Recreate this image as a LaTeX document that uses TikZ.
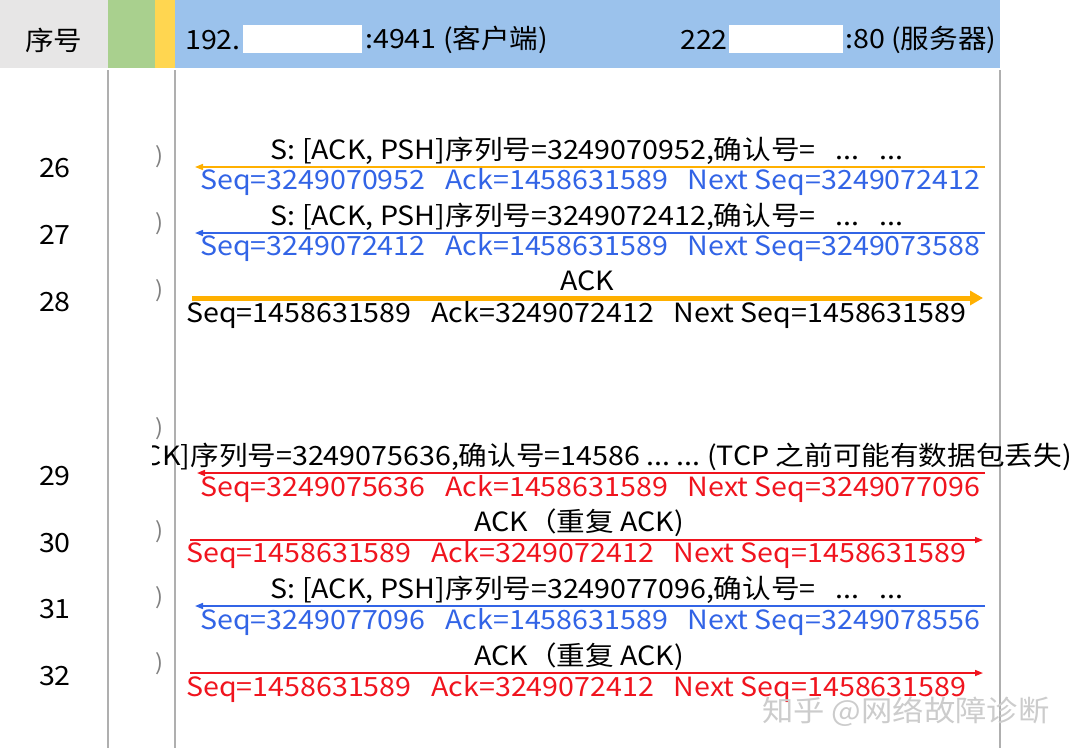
\documentclass[tikz,border=0pt]{standalone}
\usepackage{fontspec}
\setmainfont{Noto Sans CJK SC}[FakeStretch=1.08]
\usetikzlibrary{arrows.meta}
\definecolor{hdrgray}{RGB}{231,230,230}
\definecolor{hdrgreen}{RGB}{169,208,142}
\definecolor{hdryellow}{RGB}{255,214,80}
\definecolor{hdrblue}{RGB}{155,194,236}
\definecolor{segorange}{RGB}{255,176,0}
\definecolor{segblue}{RGB}{50,100,230}
\definecolor{segred}{RGB}{240,20,30}
\definecolor{linegray}{RGB}{175,175,175}
\newcommand{\sgap}{\hspace{0.75em}}
\tikzset{
  txt/.style={inner sep=0pt, font=\fontsize{26.5}{30}\selectfont},
  rownum/.style={txt, anchor=center},
  tick/.style={inner sep=0pt, text=gray, font=\fontsize{22}{24}\selectfont},
  seqline/.style={txt, anchor=west},
  msgline/.style={txt, anchor=center},
  thinarr/.style={line width=1.5pt, -{Triangle[length=8pt,width=6pt]}},
  thickarr/.style={line width=5pt, -{Triangle[length=13pt,width=14pt]}},
}
\begin{document}
\begin{tikzpicture}[x=1pt,y=-1pt]
\useasboundingbox (0,0) rectangle (1080,753);
% header band
\fill[hdrgray] (0,0) rectangle (108,68);
\fill[hdrgreen] (108,0) rectangle (155,68);
\fill[hdryellow] (155,0) rectangle (175,68);
\fill[hdrblue] (175,0) rectangle (1000,68);
\node[txt] (hnum) at (54,40) {序号};
\node[txt, anchor=west] (hcli) at (185,40) {192.};
\fill[white] (243,25) rectangle (362,53);
\node[txt, anchor=west] (hclip) at (365,40) {:4941 (客户端)};
\node[txt, anchor=west] (hsrv) at (680,40) {222};
\fill[white] (729,25) rectangle (843,53);
\node[txt, anchor=west] (hsrvp) at (845,40) {:80 (服务器)};
% column lines
\draw[linegray, line width=1.2pt] (108,70) -- (108,748);
\draw[linegray, line width=1.2pt] (175,70) -- (175,748);
\draw[linegray, line width=1.2pt] (1000,70) -- (1000,748);
% row numbers
\node[rownum] (n26) at (55,168) {26};
\node[rownum] (n27) at (55,235) {27};
\node[rownum] (n28) at (55,302) {28};
\node[rownum] (n29) at (55,476) {29};
\node[rownum] (n30) at (55,543) {30};
\node[rownum] (n31) at (55,609) {31};
\node[rownum] (n32) at (55,676) {32};
% cut-off marks
\node[tick] (t26) at (160,157) {)};
\node[tick] (t27) at (160,224) {)};
\node[tick] (t28) at (160,291) {)};
\node[tick] (t29) at (160,429) {)};
\node[tick] (t30) at (160,532) {)};
\node[tick] (t31) at (160,598) {)};
\node[tick] (t32) at (160,664) {)};
% end points on client and server side
\coordinate (c26) at (195,167); \coordinate (s26) at (985,167);
\coordinate (c27) at (195,233); \coordinate (s27) at (985,233);
\coordinate (c28) at (192,298); \coordinate (s28) at (983,298);
\coordinate (c29) at (197,473); \coordinate (s29) at (985,473);
\coordinate (c30) at (190,540); \coordinate (s30) at (983,540);
\coordinate (c31) at (195,606); \coordinate (s31) at (985,606);
\coordinate (c32) at (190,673); \coordinate (s32) at (983,673);
% 26
\node[msgline] (m26) at (587,151) {S: [ACK, PSH]序列号=3249070952,确认号=\sgap...\sgap...};
\draw[thinarr, segorange] (s26) -- (c26);
\node[seqline, text=segblue] (q26) at (200,182) {Seq=3249070952\sgap Ack=1458631589\sgap Next Seq=3249072412};
% 27
\node[msgline] (m27) at (587,217) {S: [ACK, PSH]序列号=3249072412,确认号=\sgap...\sgap...};
\draw[thinarr, segblue] (s27) -- (c27);
\node[seqline, text=segblue] (q27) at (200,248) {Seq=3249072412\sgap Ack=1458631589\sgap Next Seq=3249073588};
% 28
\node[msgline] (m28) at (587,281) {ACK};
\draw[thickarr, segorange] (c28) -- (s28);
\node[seqline] (q28) at (186,315) {Seq=1458631589\sgap Ack=3249072412\sgap Next Seq=1458631589};
% 29
\begin{scope}
\clip (152,430) rectangle (1080,480);
\node[txt, anchor=east] (m29) at (1072,457) {CK]序列号=3249075636,确认号=14586~...~...~(TCP 之前可能有数据包丢失)};
\end{scope}
\draw[thinarr, segred] (s29) -- (c29);
\node[seqline, text=segred] (q29) at (200,489) {Seq=3249075636\sgap Ack=1458631589\sgap Next Seq=3249077096};
% 30
\node[msgline] (m30) at (579,523) {ACK（重复 ACK)};
\draw[thinarr, segred] (c30) -- (s30);
\node[seqline, text=segred] (q30) at (186,555) {Seq=1458631589\sgap Ack=3249072412\sgap Next Seq=1458631589};
% 31
\node[msgline] (m31) at (587,590) {S: [ACK, PSH]序列号=3249077096,确认号=\sgap...\sgap...};
\draw[thinarr, segblue] (s31) -- (c31);
\node[seqline, text=segblue] (q31) at (200,622) {Seq=3249077096\sgap Ack=1458631589\sgap Next Seq=3249078556};
% 32
\node[msgline] (m32) at (579,657) {ACK（重复 ACK)};
\draw[thinarr, segred] (c32) -- (s32);
\node[seqline, text=segred] (q32) at (186,689) {Seq=1458631589\sgap Ack=3249072412\sgap Next Seq=1458631589};
% watermark
\node[inner sep=0pt, anchor=west, text=gray!40, font=\fontsize{29}{32}\selectfont] (wm) at (762,712) {知乎 @网络故障诊断};
\end{tikzpicture}
\end{document}
